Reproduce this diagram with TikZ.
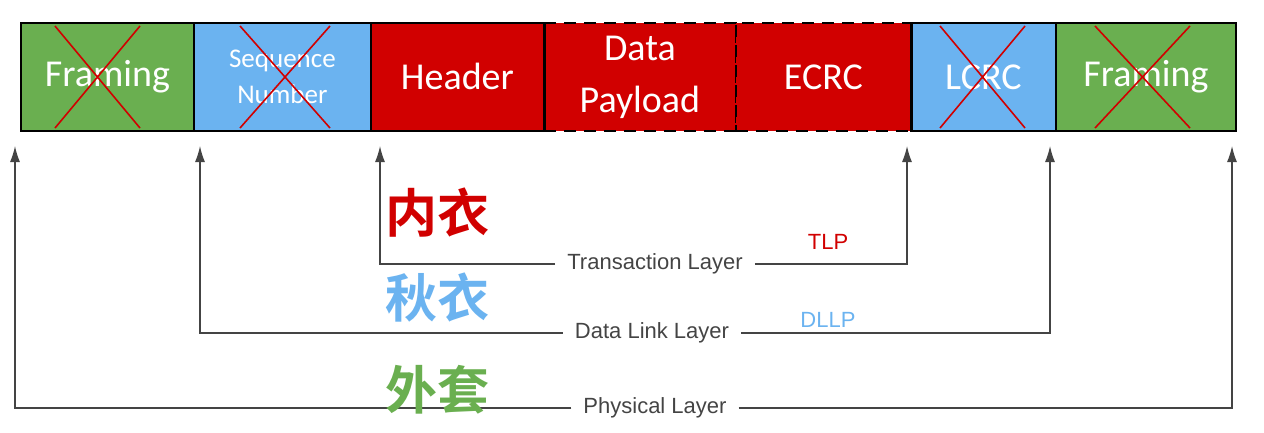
\documentclass[tikz,border=0pt]{standalone}
\usetikzlibrary{arrows.meta}
\usepackage{fontspec}
\setmainfont{Carlito}
\newfontfamily\lab{Liberation Sans}
\newfontfamily\cjk{Noto Sans CJK SC}[BoldFont={* Bold}]
\definecolor{gr}{HTML}{6AAF50}
\definecolor{bl}{HTML}{6BB3F0}
\definecolor{rd}{HTML}{D10000}
\definecolor{ln}{HTML}{444444}
\begin{document}
\begin{tikzpicture}[x=1pt,y=-1pt,
  fld/.style={minimum height=108pt,inner sep=0pt,text=white,font=\fontsize{38}{40}\selectfont,align=center,line width=1.8pt},
  xx/.style={draw=rd,line width=1.6pt},
  ar/.style={draw=ln,line width=1.3pt,-{Latex[length=16pt,width=10pt]}},
  lay/.style={font=\lab\fontsize{22}{24}\selectfont,text=ln,inner sep=0pt},
  cj/.style={font=\cjk\bfseries\fontsize{52}{56}\selectfont,inner sep=0pt}]
\useasboundingbox (0,0) rectangle (1264,432);
\node[fld,fill=gr,draw,minimum width=173pt,anchor=north west] (f1) at (20,22) {Framing};
\node[fld,fill=bl,draw,minimum width=177pt,anchor=north west,font=\fontsize{27}{36}\selectfont] (sn) at (193,22) {Sequence\\Number};
\node[fld,fill=rd,draw,minimum width=173pt,anchor=north west] (hd) at (370,22) {Header};
\node[fld,fill=rd,draw,dashed,dash pattern=on 12pt off 8pt,minimum width=192pt,anchor=north west,font=\fontsize{38}{52}\selectfont] (dp) at (543,22) {Data\\Payload};
\node[fld,fill=rd,draw,dashed,dash pattern=on 12pt off 8pt,minimum width=175pt,anchor=north west] (ec) at (735,22) {ECRC};
\node[fld,fill=bl,draw,minimum width=145pt,anchor=north west] (lc) at (910,22) {LCRC};
\node[fld,fill=gr,draw,minimum width=180pt,anchor=north west] (f2) at (1055,22) {Framing};
\draw[line width=1.8pt] (hd.north east)--(hd.south east) (ec.north east)--(ec.south east);
\draw[xx] (55,26)--(140,128) (140,26)--(55,128);
\draw[xx] (240,26)--(330,128) (330,26)--(240,128);
\draw[xx] (940,26)--(1025,128) (1025,26)--(940,128);
\draw[xx] (1095,26)--(1190,128) (1190,26)--(1095,128);
% layers
\node[lay] (tl) at (655,264) {Transaction Layer};
\node[lay] (dl) at (652,333) {Data Link Layer};
\node[lay] (pl) at (655,408) {Physical Layer};
\coordinate (t1) at (380,146); \coordinate (t2) at (907,146);
\coordinate (d1) at (200,146); \coordinate (d2) at (1050,146);
\coordinate (p1) at (15,146); \coordinate (p2) at (1232,146);
\draw[ar] ([xshift=-12pt]tl.west) -| (t1);
\draw[ar] ([xshift=12pt]tl.east) -| (t2);
\draw[ar] ([xshift=-12pt]dl.west) -| (d1);
\draw[ar] ([xshift=12pt]dl.east) -| (d2);
\draw[ar] ([xshift=-12pt]pl.west) -| (p1);
\draw[ar] ([xshift=12pt]pl.east) -| (p2);
\node[font=\lab\fontsize{22}{24}\selectfont,text=rd] (tlp) at (828,242) {TLP};
\node[font=\lab\fontsize{22}{24}\selectfont,text=bl] (dllp) at (828,320) {DLLP};
\node[cj,text=rd] (c1) at (437,213) {内衣};
\node[cj,text=bl] (c2) at (437,297) {秋衣};
\node[cj,text=gr] (c3) at (437,390) {外套};
\end{tikzpicture}
\end{document}
